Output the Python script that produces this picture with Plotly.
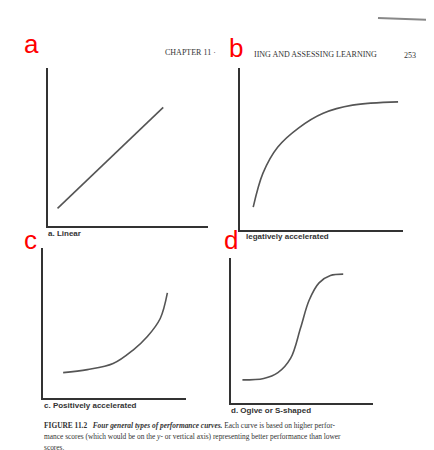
import plotly.graph_objects as go

# curve data (axis units 0-10 in each panel)
lin_x = [0.6, 7.2]
lin_y = [1.1, 7.5]
neg_x = [0.8, 1.4, 2.3, 3.6, 5.1, 6.9, 9.7]
neg_y = [1.4, 3.5, 5.1, 6.3, 7.2, 7.7, 7.9]
pos_x = [1.4, 3.1, 4.9, 6.3, 7.3, 8.2, 8.7]
pos_y = [1.7, 1.9, 2.3, 3.2, 4.1, 5.3, 7.0]
ogv_x = [0.8, 2.3, 3.3, 4.2, 4.9, 5.5, 6.2, 7.0, 7.9]
ogv_y = [1.6, 1.7, 2.1, 3.1, 5.2, 7.1, 8.3, 8.8, 8.9]

panels = [
    ("x", "y", lin_x, lin_y, [0.092, 0.461], [0.516, 0.867]),
    ("x2", "y2", neg_x, neg_y, [0.535, 0.910], [0.507, 0.867]),
    ("x3", "y3", pos_x, pos_y, [0.081, 0.410], [0.133, 0.467]),
    ("x4", "y4", ogv_x, ogv_y, [0.514, 0.841], [0.122, 0.444]),
]

fig = go.Figure()
layout = {}
for i, (xa, ya, xs, ys, xd, yd) in enumerate(panels):
    fig.add_trace(go.Scatter(x=xs, y=ys, xaxis=xa, yaxis=ya, mode="lines",
                             line=dict(color="#555", width=1.6, shape="spline"),
                             showlegend=False, hoverinfo="skip"))
    n = "" if i == 0 else str(i + 1)
    layout["xaxis" + n] = dict(domain=xd, range=[0, 10], anchor=ya, showgrid=False,
                               zeroline=False, showticklabels=False, ticks="",
                               showline=True, linecolor="#333", linewidth=1.5)
    layout["yaxis" + n] = dict(domain=yd, range=[0, 10], anchor=xa, showgrid=False,
                               zeroline=False, showticklabels=False, ticks="",
                               showline=True, linecolor="#333", linewidth=1.5)
fig.update_layout(**layout)

ann = []
def txt(x, y, t, size=8, color="#333", font="Liberation Sans", bold=False):
    ann.append(dict(x=x / 434, y=1 - y / 450, xref="paper", yref="paper",
                    text=f"<b>{t}</b>" if bold else t, showarrow=False,
                    xanchor="left", yanchor="middle",
                    font=dict(size=size, color=color, family=font)))

txt(38, 225, "a. Linear", 8, bold=True)
txt(236, 229, "legatively accelerated", 8, bold=True)
txt(34, 397, "c. Positively accelerated", 8, bold=True)
txt(221, 402, "d. Ogive or S-shaped", 8, bold=True)
txt(14, 36, "a", 26, "red")
txt(219, 40, "b", 26, "red")
txt(14, 232, "c", 26, "red")
txt(214, 232, "d", 26, "red")
txt(155, 45, "CHAPTER 11 ·", 8, font="Liberation Serif")
txt(244, 46, "IING AND ASSESSING LEARNING", 8, font="Liberation Serif")
txt(394, 47, "253", 8, font="Liberation Serif")
txt(34, 417, "<b>FIGURE 11.2</b>   <b><i>Four general types of performance curves.</i></b> Each curve is based on higher perfor-",
    7.4, font="Liberation Serif")
txt(34, 428, "mance scores (which would be on the <i>y</i>- or vertical axis) representing better performance than lower",
    7.4, font="Liberation Serif")
txt(34, 439, "scores.", 7.4, font="Liberation Serif")

fig.update_layout(width=434, height=450, margin=dict(l=0, r=0, t=0, b=0),
                  paper_bgcolor="white", plot_bgcolor="white", annotations=ann,
                  shapes=[dict(type="line", xref="paper", yref="paper",
                               x0=370 / 434, x1=425 / 434, y0=1 - 10 / 450, y1=1 - 12 / 450,
                               line=dict(color="#888", width=2))])
fig.write_html("out.html")
